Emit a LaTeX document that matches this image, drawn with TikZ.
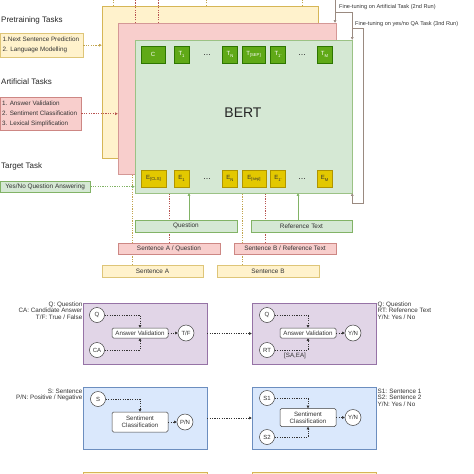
\documentclass[tikz,border=0pt]{standalone}
\usepackage{fontspec}
\setmainfont{Liberation Sans}
\usetikzlibrary{arrows.meta,calc}
\definecolor{yf}{HTML}{FFF2CC}
\definecolor{yd}{HTML}{D6B656}
\definecolor{rf}{HTML}{F8CECC}
\definecolor{rd}{HTML}{B85450}
\definecolor{gf}{HTML}{D5E8D4}
\definecolor{gd}{HTML}{82B366}
\definecolor{tgf}{HTML}{60A917}
\definecolor{tgd}{HTML}{2D7600}
\definecolor{tyf}{HTML}{E3C800}
\definecolor{tyd}{HTML}{B09500}
\definecolor{pf}{HTML}{E1D5E7}
\definecolor{pd}{HTML}{9673A6}
\definecolor{bf}{HTML}{DAE8FC}
\definecolor{bd}{HTML}{6C8EBF}
\definecolor{txt}{HTML}{333333}
\definecolor{ftc}{HTML}{9A8A80}
\newcommand{\lsub}[1]{\raisebox{-0.45ex}{\fontsize{4.2}{5}\selectfont #1}}
\begin{document}
\begin{tikzpicture}[x=1pt,y=-1pt,
  every node/.style={inner sep=0pt,text=txt},
  sz/.style 2 args={minimum width=#1pt,minimum height=#2pt},
  arrowed/.style={-{Triangle[length=2.6pt,width=2.6pt]}},
  bigY/.style={draw=yd,fill=yf,line width=0.5pt},
  bigR/.style={draw=rd!60,fill=rf,line width=0.5pt},
  bigG/.style={draw=gd!80,fill=gf,line width=0.5pt},
  ysm/.style={draw=yd!80,fill=yf,line width=0.4pt,font=\fontsize{6.4}{7}\selectfont},
  rsm/.style={draw=rd!70,fill=rf,line width=0.4pt,font=\fontsize{6.4}{7}\selectfont},
  gsm/.style={draw=gd,fill=gf,line width=0.4pt,font=\fontsize{6.4}{7}\selectfont},
  tokG/.style={draw=tgd,fill=tgf,text=white,line width=0.4pt,minimum height=17pt,font=\fontsize{6}{7}\selectfont},
  tokY/.style={draw=tyd,fill=tyf,text=txt,line width=0.4pt,minimum height=17pt,font=\fontsize{6}{7}\selectfont},
  dotsl/.style={font=\fontsize{9}{9}\selectfont,text=txt},
  ydot/.style={draw=yd!90!black,dash pattern=on 1.2pt off 1.2pt,line width=0.5pt},
  rdot/.style={draw=rd,dash pattern=on 1.2pt off 1.2pt,line width=0.5pt},
  gdot/.style={draw=gd,dash pattern=on 1.2pt off 1.2pt,line width=0.5pt},
  gline/.style={draw=gd,line width=0.5pt},
  ftline/.style={draw=ftc,line width=0.5pt},
  hdr/.style={font=\fontsize{8}{9}\selectfont,text=black!85,anchor=west},
  lst/.style={anchor=west,align=left,font=\fontsize{6.3}{10}\selectfont},
  lgndR/.style={anchor=north east,align=right,font=\fontsize{6.3}{6.6}\selectfont},
  lgndL/.style={anchor=north west,align=left,font=\fontsize{6.3}{6.6}\selectfont},
  pbox/.style={draw=pd,fill=pf,line width=0.5pt},
  bbox/.style={draw=bd,fill=bf,line width=0.5pt},
  yboxb/.style={draw=yd,fill=yf,line width=0.5pt},
  circ/.style={circle,draw=black!75,fill=white,line width=0.5pt,minimum size=15pt,font=\fontsize{6}{7}\selectfont},
  proc/.style={draw=black!75,fill=white,rounded corners=1.5pt,line width=0.5pt,font=\fontsize{6.2}{6.6}\selectfont,align=center},
  dl/.style={draw=black!80,dash pattern=on 1.2pt off 1.2pt,line width=0.5pt},
  ft/.style={font=\fontsize{5.6}{6}\selectfont,anchor=west}
]
\clip (0,0) rectangle (474,474);
\fill[white] (0,0) rectangle (474,474);

% ---------- yellow layer (pretraining)
\node[bigY,sz={216}{152}] (yel) at (210,82) {};
\coordinate (yo1) at (113,0);
\coordinate (yo2) at (206,0);
\coordinate (yo3) at (302,0);
\draw[ydot] (yel.north -| yo1) -- (yo1);
\draw[ydot] (yel.north -| yo2) -- (yo2);
\draw[ydot] (yel.north -| yo3) -- (yo3);
\node[ysm,sz={101}{12}] (sa) at (152.5,271) {Sentence A};
\node[ysm,sz={102}{12}] (sb) at (268,271) {Sentence B};
\draw[ydot] ([xshift=30pt]sa.north west) -- ([xshift=30pt]sa.north west |- yel.south);
\draw[ydot] ([xshift=25pt]sb.north west) -- ([xshift=25pt]sb.north west |- yel.south);

\node[hdr] (h1) at (1,20) {Pretraining Tasks};
\node[ysm,sz={83}{24},anchor=north west] (ylist) at (0,33) {};
\node[lst] (ylistt) at ([xshift=2.5pt]ylist.west) {1.Next Sentence Prediction\\2. Language Modelling};
\draw[ydot,arrowed] (ylist.east) -- (ylist.east -| yel.west);

% ---------- red layer (artificial)
\node[bigR,sz={218}{151}] (red) at (227,98.5) {};
\coordinate (ro1) at (135,0);
\coordinate (ro2) at (158,0);
\draw[rdot] (red.north -| ro1) -- (ro1);
\draw[rdot] (red.north -| ro2) -- (ro2);
\node[rsm,sz={102}{11}] (saq) at (169,248.5) {Sentence A / Question};
\node[rsm,sz={102}{11}] (sbr) at (285,248.5) {Sentence B / Reference Text};
\draw[rdot] ([xshift=51pt]saq.north west) -- ([xshift=51pt]saq.north west |- red.south);
\draw[rdot] ([xshift=31pt]sbr.north west) -- ([xshift=31pt]sbr.north west |- red.south);

\node[hdr] (h2) at (1,82) {Artificial Tasks};
\node[rsm,sz={81}{33},anchor=north west] (rlist) at (0,97) {};
\node[lst,font=\fontsize{6.3}{10.2}\selectfont] (rlistt) at ([xshift=2pt]rlist.west)
  {1. Answer Validation\\2. Sentiment Classification\\3. Lexical Simplification};
\draw[rdot,arrowed] (rlist.east) -- (rlist.east -| red.west);

% ---------- green layer (target)
\node[bigG,sz={217}{153}] (grn) at (243.5,116.5) {};
\node[tokG,minimum width=24pt] (tc) at (153,54.5) {C};
\node[tokG,minimum width=15pt] (t1) at (181.5,54.5) {T\lsub{1}};
\node[dotsl] (d1) at (207,55) {...};
\node[tokG,minimum width=15pt] (tn) at (230,54.5) {T\lsub{N}};
\node[tokG,minimum width=23pt] (tsep) at (253.5,54.5) {T\lsub{[SEP]}};
\node[tokG,minimum width=15pt] (t1p) at (278,54.5) {T\lsub{1'}};
\node[dotsl] (d2) at (302,55) {...};
\node[tokG,minimum width=15pt] (tm) at (324.5,54.5) {T\lsub{M}};

\node[font=\fontsize{14}{16}\selectfont,text=black!85] (bert) at (243,113) {BERT};

\node[tokY,minimum width=25pt] (ecls) at (153.5,178.5) {E\lsub{[CLS]}};
\node[tokY,minimum width=15pt] (e1) at (181.5,178.5) {E\lsub{1}};
\node[dotsl] (d3) at (207,179) {...};
\node[tokY,minimum width=15pt] (en) at (230,178.5) {E\lsub{N}};
\node[tokY,minimum width=24pt] (esep) at (254,178.5) {E\lsub{[sep]}};
\node[tokY,minimum width=15pt] (e1p) at (278,178.5) {E\lsub{1'}};
\node[dotsl] (d4) at (302,179) {...};
\node[tokY,minimum width=15pt] (em) at (324.5,178.5) {E\lsub{M}};

\node[gsm,sz={102}{12}] (qn) at (186,226) {Question};
\node[gsm,sz={101}{12}] (rt) at (301.5,226) {Reference Text};
\draw[gline,arrowed] ([xshift=3pt]qn.north) -- ([xshift=3pt]qn.north |- grn.south);
\draw[gline,arrowed] ([xshift=-3.5pt]rt.north) -- ([xshift=-3.5pt]rt.north |- grn.south);

\node[hdr] (h3) at (1,166) {Target Task};
\node[gsm,sz={90}{11},anchor=north west,font=\fontsize{6.4}{7}\selectfont] (glist) at (0,181) {Yes/No Question Answering};
\draw[gdot,arrowed] (glist.east) -- (glist.east -| grn.west);

% ---------- fine-tuning runs
\coordinate (f1) at (335,0);
\coordinate (f2) at (335,12);
\coordinate (lp1) at (363,203);
\coordinate (lp2) at (363,28);
\draw[ftline,arrowed] (f1) -- (f1 |- red.north);
\draw[ftline,arrowed] (f2) -| (grn.north east);
\draw[ftline,{Triangle[length=2.6pt,width=2.6pt]}-] (grn.south east) -- (grn.south east |- lp1) -- (lp1) -- (lp2) -- (lp2 -| grn.east);
\node[ft] (ftl1) at (339,7) {Fine-tuning on Artificial Task (2nd Run)};
\node[ft] (ftl2) at (355,24) {Fine-tuning on yes/no QA Task (3nd Run)};

% ---------- answer validation tasks
\node[pbox,sz={124}{61}] (p1) at (145,333.5) {};
\node[pbox,sz={124}{61}] (p2) at (314,333.5) {};
\node[lgndR] (lg1) at (82.5,301.5) {Q: Question\\CA: Candidate Answer\\T/F: True / False};
\node[lgndL] (lg2) at (377.5,301.5) {Q: Question\\RT: Reference Text\\Y/N: Yes / No};

\node[circ] (q1) at (97,315) {Q};
\node[circ] (ca) at (97,350) {CA};
\node[proc,sz={56}{10}] (av1) at (140,333) {Answer Validation};
\node[circ,minimum size=16pt] (tf) at (186,333) {T/F};
\draw[dl,arrowed] (q1.east) -| (av1.north);
\draw[dl,arrowed] (ca.east) -| (av1.south);
\draw[dl,arrowed] (av1.east) -- (tf.west);

\node[circ] (q2) at (267,315) {Q};
\node[circ] (rtc) at (267,350) {RT};
\node[proc,sz={56}{10}] (av2) at (308,333) {Answer Validation};
\node[circ,minimum size=16pt] (yn1) at (353,333) {Y/N};
\draw[dl,arrowed] (q2.east) -| (av2.north);
\draw[dl,arrowed] (rtc.east) -| (av2.south);
\draw[dl,arrowed] (av2.east) -- (yn1.west);
\node[font=\fontsize{6.2}{7}\selectfont] (saea) at (295,356) {[SA,EA]};

\draw[dl,arrowed] (p1.east) -- (p2.west);

% ---------- sentiment classification tasks
\node[bbox,sz={124}{62}] (b1) at (145,418) {};
\node[bbox,sz={124}{62}] (b2) at (314,418) {};
\node[lgndR] (lg3) at (82.5,388.5) {S: Sentence\\P/N: Positive / Negative};
\node[lgndL] (lg4) at (377.5,388.5) {S1: Sentence 1\\S2: Sentence 2\\Y/N: Yes / No};

\node[circ] (s) at (98,399) {S};
\node[proc,sz={56}{20}] (sc1) at (140,422) {Sentiment\\Classification};
\node[circ,minimum size=16pt] (pn) at (185,422) {P/N};
\draw[dl,arrowed] (s.east) -| (sc1.north);
\draw[dl,arrowed] (sc1.east) -- (pn.west);

\node[circ] (s1) at (267,398) {S1};
\node[circ] (s2) at (267,437) {S2};
\node[proc,sz={56}{18}] (sc2) at (308,417.5) {Sentiment\\Classification};
\node[circ,minimum size=16pt] (yn2) at (353,417.5) {Y/N};
\draw[dl,arrowed] (s1.east) -| (sc2.north);
\draw[dl,arrowed] (s2.east) -| (sc2.south);
\draw[dl,arrowed] (sc2.east) -- (yn2.west);

\draw[dl,arrowed] (b1.east) -- (b2.west);

% ---------- next (cut-off) boxes
\node[yboxb,sz={124}{30},anchor=north] (y1) at (145,472) {};
\node[yboxb,sz={124}{30},anchor=north] (y2) at (314,472) {};
\end{tikzpicture}
\end{document}
